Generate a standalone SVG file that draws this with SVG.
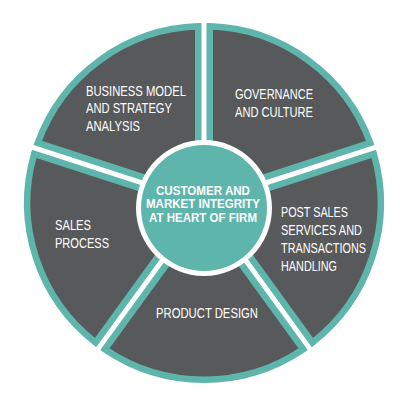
<svg xmlns="http://www.w3.org/2000/svg" width="400" height="408" viewBox="0 0 400 408">
<style>
.seg{fill:#58595b;stroke:#5db5ab;stroke-width:6.5;stroke-linejoin:miter}
.t{font-family:"Liberation Sans",Arial,sans-serif;font-size:14px;fill:#ffffff}
.c{font-family:"Liberation Sans",Arial,sans-serif;font-size:12px;font-weight:bold;fill:#ffffff;text-anchor:middle}
</style>
<rect width="400" height="408" fill="#ffffff"/>
<g id="governance">
<path class="seg" d="M209.75,195.09 L209.75,26.34 A176.75,176.75 0 0 1 370.23,142.94 Z"/>
<text class="t" x="235" y="99" textLength="78" lengthAdjust="spacingAndGlyphs">GOVERNANCE</text>
<text class="t" x="235" y="116.5" textLength="78" lengthAdjust="spacingAndGlyphs">AND CULTURE</text>
</g>
<g id="post-sales">
<path class="seg" d="M213.3,206.02 L373.79,153.88 A176.75,176.75 0 0 1 312.49,342.54 Z"/>
<text class="t" x="281" y="217" textLength="67" lengthAdjust="spacingAndGlyphs">POST SALES</text>
<text class="t" x="281" y="235" textLength="81" lengthAdjust="spacingAndGlyphs">SERVICES AND</text>
<text class="t" x="281" y="253" textLength="85" lengthAdjust="spacingAndGlyphs">TRANSACTIONS</text>
<text class="t" x="281" y="270.5" textLength="56" lengthAdjust="spacingAndGlyphs">HANDLING</text>
</g>
<g id="product-design">
<path class="seg" d="M204,212.78 L303.19,349.3 A176.75,176.75 0 0 1 104.81,349.3 Z"/>
<text class="t" x="156" y="317.5" textLength="102" lengthAdjust="spacingAndGlyphs">PRODUCT DESIGN</text>
</g>
<g id="sales-process">
<path class="seg" d="M194.7,206.02 L95.51,342.54 A176.75,176.75 0 0 1 34.21,153.88 Z"/>
<text class="t" x="55" y="230" textLength="36" lengthAdjust="spacingAndGlyphs">SALES</text>
<text class="t" x="55" y="247.5" textLength="54" lengthAdjust="spacingAndGlyphs">PROCESS</text>
</g>
<g id="business-model">
<path class="seg" d="M198.25,195.09 L37.77,142.94 A176.75,176.75 0 0 1 198.25,26.34 Z"/>
<text class="t" x="86" y="96" textLength="100" lengthAdjust="spacingAndGlyphs">BUSINESS MODEL</text>
<text class="t" x="86" y="113.3" textLength="86" lengthAdjust="spacingAndGlyphs">AND STRATEGY</text>
<text class="t" x="86" y="130.7" textLength="54" lengthAdjust="spacingAndGlyphs">ANALYSIS</text>
</g>
<g id="center">
<circle cx="204" cy="208" r="68" fill="#ffffff"/>
<circle cx="204" cy="208" r="63" fill="#5db5ab"/>
<text class="c" x="203" y="195" textLength="94" lengthAdjust="spacingAndGlyphs">CUSTOMER AND</text>
<text class="c" x="203" y="208.3" textLength="114" lengthAdjust="spacingAndGlyphs">MARKET INTEGRITY</text>
<text class="c" x="203" y="221.7" textLength="108" lengthAdjust="spacingAndGlyphs">AT HEART OF FIRM</text>
</g>
</svg>
